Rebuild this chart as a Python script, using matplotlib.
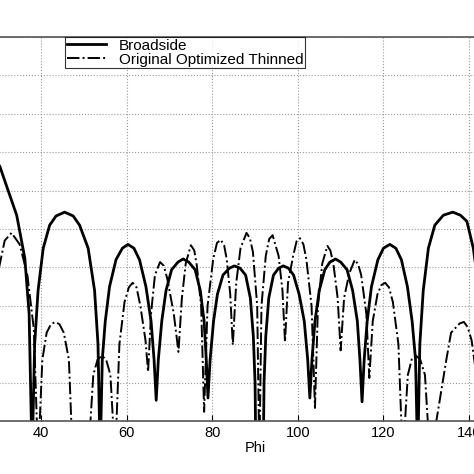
import matplotlib
matplotlib.use("Agg")
import matplotlib.pyplot as plt

plt.rcParams['font.family'] = ['Liberation Sans', 'DejaVu Sans']

# Broadside pattern (Phi in degrees, level in dB)
broad_phi = [29, 30.4, 32, 34.3, 36.2, 37.2, 37.9,
             38.5, 39.3, 40.5, 42, 43.5, 45.5, 47.5, 49, 51, 52.5, 53.3, 53.8,
             54.3, 55, 56, 57.5, 59, 60.3, 61.7, 63, 64.5, 65.7, 66.4, 66.9,
             67.4, 68.2, 69.2, 70.5, 72, 73.2, 74.5, 76, 77.2, 78.1, 78.6, 79,
             79.5, 80.3, 81.2, 82.5, 84, 85.2, 86.5, 87.8, 88.9, 89.6, 90, 90.2,
             91, 91.9,
             92.1, 92.5, 93.2, 94.3, 95.5, 96.6, 97.8, 99, 100.3, 101.5, 102.3, 102.8,
             103.3, 104, 105, 106.3, 107.5, 108.8, 110, 111.5, 112.8, 113.9, 114.5, 115,
             115.5, 116.2, 117.2, 118.7, 120, 121.5, 122.9, 124.2, 125.6, 126.7, 127.5, 128,
             128.5, 129.3, 130.5, 132, 134, 136.2, 138, 139.5, 141, 142.3, 143.4, 144]
broad_db = [-15.5, -16.9, -19.5, -23.2, -28.8, -36, -55,
            -40, -33, -27.5, -24.5, -23.3, -22.8, -23.3, -24.5, -27.5, -33, -40, -55,
            -42, -37, -32.5, -29, -27.5, -27, -27.5, -29, -32.5, -37, -42, -47.3,
            -42, -37, -33, -30.3, -29.3, -28.9, -29.3, -30.3, -33, -37, -42, -47,
            -42, -37, -33.5, -31, -30.1, -29.8, -30.1, -31, -34, -39, -45, -55,
            -60, -55,
            -45, -39, -34, -31, -30.1, -29.8, -30.1, -31, -33.5, -37, -42, -47,
            -42, -37, -33, -30.3, -29.3, -28.9, -29.3, -30.3, -33, -37, -42, -47.5,
            -42, -37, -32.5, -29, -27.5, -27, -27.5, -29, -32.5, -37, -42, -55,
            -40, -33, -27.5, -24.5, -23.2, -22.8, -23.2, -24, -27.5, -33, -42, -55]

# Original optimized thinned pattern
thin_phi = [29, 30, 31.5, 33.1, 35, 36.8, 38.3, 39.3,
            40.3, 41.3, 42.3, 43.3, 44.3, 45.3, 46.5, 47.4,
            51, 52.2, 53.2, 54.2, 55.2, 56.2, 57.3,
            58.3, 59.5, 60.5, 61.4, 62.3, 63.2, 64.4, 65,
            65.7, 66.6, 67.8, 68.7, 69.5, 71, 72.1,
            72.9, 73.8, 75, 75.8, 76.4, 77.4, 78.1,
            78.9, 80.2, 81.1, 82, 82.8, 83.4, 84.2, 84.8,
            85.6, 86.6, 88, 88.8, 89.5, 90.5, 91, 91.5, 92.5, 93.3, 94.1, 95.5, 96.4, 97.0,
            97.7, 98.9, 99.7, 100.5, 101.3, 102, 103.2, 104,
            104.7, 105.7, 106.9, 107.6, 108.3, 109.3, 110,
            110.8, 112, 113.3, 114.1, 114.8, 116, 116.7,
            117.5, 118.6, 119.5, 120.4, 121.3, 122.2, 123.5, 124.5,
            125.7, 126.6, 127.6, 128.6, 129.7, 130.9,
            134.7, 135.8, 137.8, 138.8, 139.7, 140.6, 141.7, 142.7, 144]
thin_db = [-32, -30.5, -26.5, -25.5, -27, -31, -38, -55,
           -42, -38.5, -37.4, -37.1, -37.4, -38.5, -42, -55,
           -55, -44, -42, -41.5, -42, -44, -55,
           -40, -34.5, -32.6, -32, -32.6, -35, -39.5, -43.6,
           -36, -31, -29.3, -29.8, -31.5, -36, -41,
           -34, -29.5, -27.1, -27.8, -29.8, -35, -48.8,
           -35, -29, -26.8, -26.4, -27.2, -29, -33.5, -40.1,
           -32, -27.5, -25.5, -26.2, -28, -35, -55, -35, -28.5, -26.3, -25.8, -28.5, -33, -39.7,
           -32, -28.5, -26.6, -26.2, -27, -29, -35, -48.3,
           -35, -29.5, -27.2, -27.8, -29.5, -34, -40.8,
           -34, -30.8, -29, -29.6, -31, -36, -44.4,
           -37, -33.5, -32.3, -32, -32.6, -34.5, -40, -55,
           -44, -42, -41.5, -42, -44, -55,
           -42, -38.5, -37.3, -37.1, -37.8, -39.5, -44, -55, -45]

xticks = [20, 40, 60, 80, 100, 120, 140, 160]
yticks = [-50, -45, -40, -35, -30, -25, -20, -15, -10, -5, 0]

fig = plt.figure(figsize=(4.74, 4.74), dpi=100)
ax = fig.add_axes([-0.0939, 0.1118, 1.264, 0.810])
ax.plot(broad_phi, broad_db, color='black', lw=2.0, label='Broadside')
ax.plot(thin_phi, thin_db, color='black', lw=1.4, ls='-.', label='Original Optimized Thinned')
ax.set_xlim(20, 160)
ax.set_ylim(-50, 0)
ax.set_xticks(xticks)
ax.set_yticks(yticks)
ax.tick_params(direction='in', labelsize=10.5, length=4)
ax.grid(True, ls=':', color='#999999', lw=0.8)
ax.set_xlabel('Phi', fontsize=10.5, labelpad=1)
for s in ax.spines.values():
    s.set_color('#555555')
    s.set_linewidth(1.2)
leg = ax.legend(loc='upper left', bbox_to_anchor=(0.183, 1.0), fontsize=11,
                frameon=True, fancybox=False, edgecolor='black', borderpad=0.1,
                handlelength=2.6, labelspacing=0.0, borderaxespad=0.0)
leg.get_frame().set_linewidth(0.8)
fig.savefig('out.png', dpi=100)
